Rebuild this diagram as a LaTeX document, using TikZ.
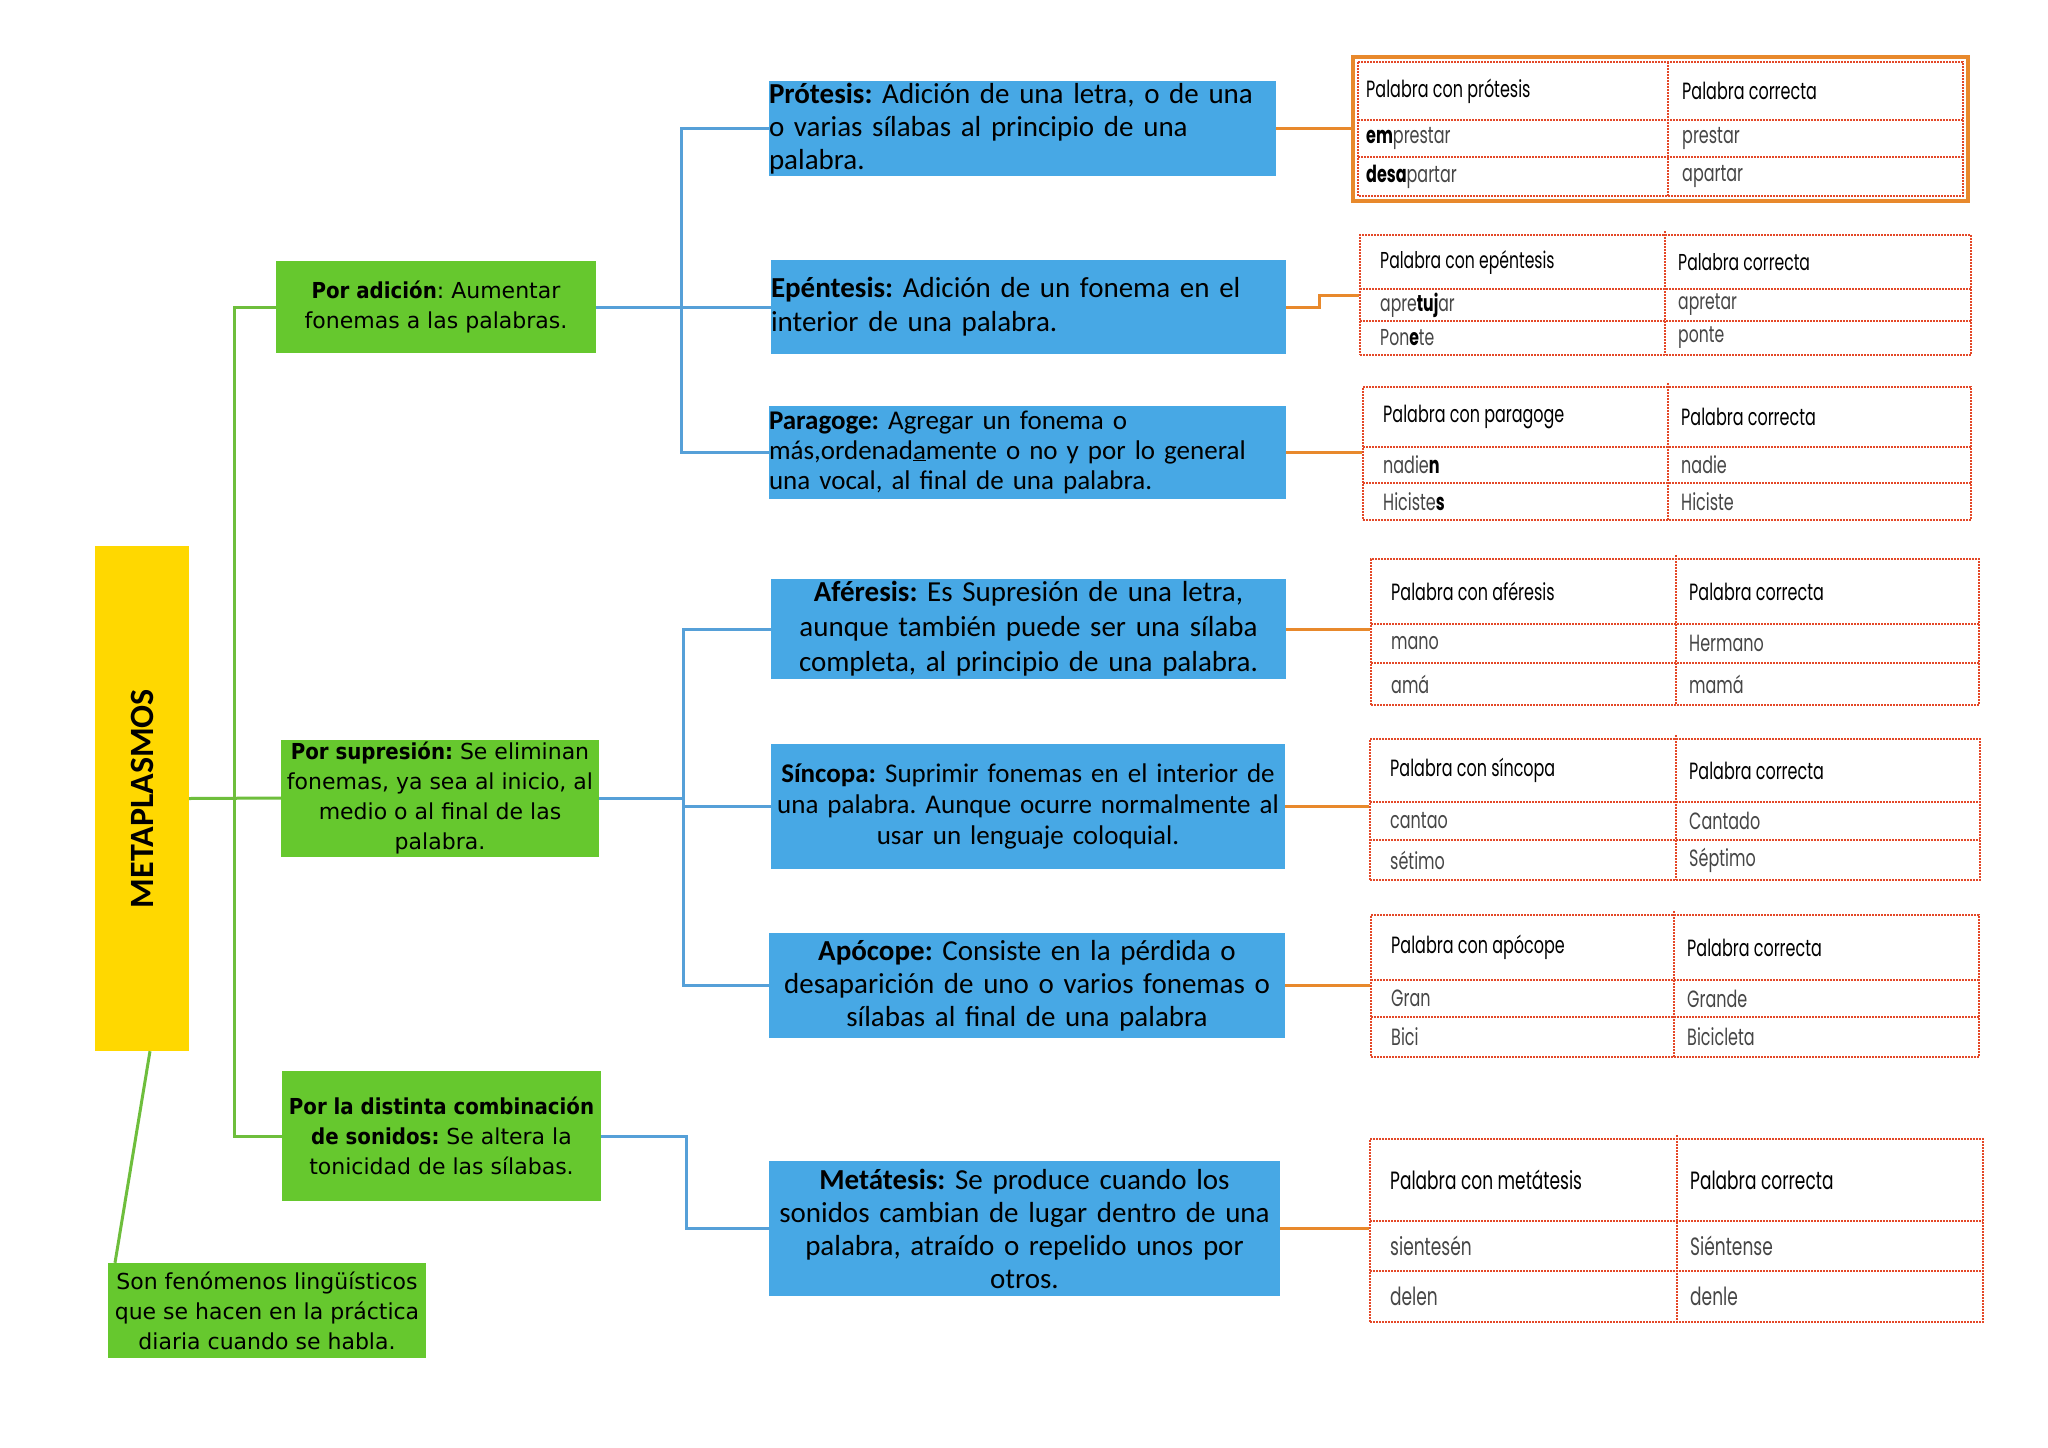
\documentclass[tikz,border=0pt]{standalone}
\usepackage{fontspec}
\setmainfont{Carlito}
\newfontfamily\verd{DejaVu Sans}[BoldFeatures={FakeStretch=0.9}]
\newfontfamily\tabfont{Poppins}[FakeStretch=0.68]
\newcommand\fsz[2]{\fontsize{#1}{#2}\selectfont}
\frenchspacing
\definecolor{cyellow}{RGB}{255,216,0}
\definecolor{cgreen}{RGB}{102,200,46}
\definecolor{cblue}{RGB}{71,168,229}
\definecolor{cbline}{RGB}{86,160,216}
\definecolor{cgline}{RGB}{110,190,60}
\definecolor{coline}{RGB}{232,137,44}
\definecolor{cred}{RGB}{228,72,40}
\definecolor{cgray}{RGB}{70,70,70}
\newcommand\tablegrid[8]{%
  \pgfmathsetmacro\tw{#4-#2}\pgfmathsetmacro\th{#5-#3}%
  \pgfmathsetmacro\tcx{(#2+#4)/2}\pgfmathsetmacro\tcy{(#3+#5)/2}%
  \node[tabframe, minimum width=\tw pt, minimum height=\th pt] (#1) at (\tcx,\tcy) {};
  \draw[tabdot] (#2,#7) -- (#4,#7);
  \draw[tabdot] (#2,#8) -- (#4,#8);
  \draw[tabdot] (#6,#3-4) -- (#6,#5);
}
\begin{document}
\begin{tikzpicture}[x=1pt,y=-1pt,
  bluebox/.style={fill=cblue, inner xsep=0pt, inner ysep=0pt, text=black},
  greenbox/.style={fill=cgreen, inner xsep=0pt, inner ysep=0pt, align=center, text=black, font=\verd\fsz{22}{30}},
  bline/.style={draw=cbline, line width=3pt},
  gline/.style={draw=cgline, line width=3pt},
  oline/.style={draw=coline, line width=3pt},
  tabdot/.style={draw=cred, line width=2pt, dash pattern=on 1.6pt off 1.4pt},
  tabframe/.style={tabdot, inner sep=0pt},
  thead/.style={anchor=west, inner sep=0pt, text=black},
  tcell/.style={anchor=west, inner sep=0pt, text=cgray},
  ]
\useasboundingbox[fill=white] (0,0) rectangle (2048,1448);

% central yellow box
\node[fill=cyellow, minimum width=94pt, minimum height=505pt, inner sep=0pt] (meta) at (142,798.5) {};
\node[rotate=90, font=\bfseries\fsz{34}{40}] (metalabel) at (meta.center) {METAPLASMOS};

% green boxes
\node[greenbox, minimum width=320pt, minimum height=92pt] (adicion) at (436,307)
  {\textbf{Por adición}: Aumentar\\fonemas a las palabras.};
\node[greenbox, minimum width=318pt, minimum height=117pt] (supresion) at (440,798)
  {\textbf{Por supresión:} Se eliminan\\fonemas, ya sea al inicio, al\\medio o al final de las\\palabra.};
\node[greenbox, minimum width=319pt, minimum height=130pt] (distinta) at (441.5,1136)
  {\textbf{Por la distinta combinación}\\\textbf{de sonidos:} Se altera la\\tonicidad de las sílabas.};
\node[greenbox, minimum width=318pt, minimum height=95pt] (son) at (267,1310.5)
  {Son fenómenos lingüísticos\\que se hacen en la práctica\\diaria cuando se habla.};

% blue boxes
\node[bluebox, text width=507pt, minimum height=95pt, align=left, font=\fsz{29}{33}] (protesis) at (1022.5,128.5)
  {\textbf{Prótesis:} Adición de una letra, o de una\\o varias sílabas al principio de una\\palabra.};
\node[bluebox, text width=515pt, minimum height=94pt, align=left, font=\fsz{29}{34}] (epentesis) at (1028.5,307)
  {\textbf{Epéntesis:} Adición de un fonema en el\\interior de una palabra.};
\node[bluebox, text width=517pt, minimum height=93pt, align=left, font=\fsz{27}{30}] (paragoge) at (1027.5,452)
  {\textbf{Paragoge:} Agregar un fonema o\\más,ordenad\underline{a}mente o no y por lo general\\una vocal, al final de una palabra.};
\node[bluebox, text width=515pt, minimum height=100pt, align=center, font=\fsz{29}{35}] (aferesis) at (1028.5,629)
  {\textbf{Aféresis:} Es Supresión de una letra,\\aunque también puede ser una sílaba\\completa, al principio de una palabra.};
\node[bluebox, text width=514pt, minimum height=125pt, align=center, font=\fsz{27}{31}] (sincopa) at (1028,806.5)
  {\textbf{Síncopa:} Suprimir fonemas en el interior de\\una palabra. Aunque ocurre normalmente al\\usar un lenguaje coloquial.};
\node[bluebox, text width=516pt, minimum height=105pt, align=center, font=\fsz{29}{33}] (apocope) at (1027,985.5)
  {\textbf{Apócope:} Consiste en la pérdida o\\desaparición de uno o varios fonemas o\\sílabas al final de una palabra};
\node[bluebox, text width=511pt, minimum height=135pt, align=center, font=\fsz{29}{33}] (metatesis) at (1024.5,1228.5)
  {\textbf{Metátesis:} Se produce cuando los\\sonidos cambian de lugar dentro de una\\palabra, atraído o repelido unos por\\otros.};

% tables
\node[draw=coline, line width=3.5pt, minimum width=615pt, minimum height=144pt, inner sep=0pt] (t1) at (1660.5,129) {};
\draw[tabdot] (1358,62) rectangle (1963,196);
\draw[tabdot] (1358,120) -- (1963,120);
\draw[tabdot] (1358,157) -- (1963,157);
\draw[tabdot] (1668,62) -- (1668,196);
\tablegrid{t2}{1360}{235}{1971}{355}{1665}{289}{321}
\tablegrid{t3}{1363}{387}{1971}{520}{1668}{447}{483}
\tablegrid{t4}{1371}{559}{1979}{705}{1676}{624}{663}
\tablegrid{t5}{1370}{739}{1980}{880}{1676}{802}{840}
\tablegrid{t6}{1371}{915}{1979}{1057}{1674}{980}{1017}
\tablegrid{t7}{1370}{1139}{1983}{1322}{1677}{1221}{1271}

\begin{scope}[font=\tabfont\fsz{23.5}{26}]
\node[thead] (t1a) at (1366,91) {Palabra con prótesis};
\node[thead] (t1b) at (1682,91) {Palabra correcta};
\node[tcell] (t1c) at (1366,138.5) {\textcolor{black}{\textbf{em}}prestar};
\node[tcell] (t1d) at (1682,138.5) {prestar};
\node[tcell] (t1e) at (1366,176.5) {\textcolor{black}{\textbf{desa}}partar};
\node[tcell] (t1f) at (1682,176.5) {apartar};
\end{scope}
\begin{scope}[font=\tabfont\fsz{23}{26}]
\node[thead] (t2a) at (1380,262) {Palabra con epéntesis};
\node[thead] (t2b) at (1678,262) {Palabra correcta};
\node[tcell] (t2c) at (1380,305) {apre\textcolor{black}{\textbf{tuj}}ar};
\node[tcell] (t2d) at (1678,305) {apretar};
\node[tcell] (t2e) at (1380,338) {Pon\textcolor{black}{\textbf{e}}te};
\node[tcell] (t2f) at (1678,338) {ponte};
\end{scope}
\begin{scope}[font=\tabfont\fsz{23.5}{26}]
\node[thead] (t3a) at (1383,417) {Palabra con paragoge};
\node[thead] (t3b) at (1681,417) {Palabra correcta};
\node[tcell] (t3c) at (1383,465) {nadie\textcolor{black}{\textbf{n}}};
\node[tcell] (t3d) at (1681,465) {nadie};
\node[tcell] (t3e) at (1383,501.5) {Hiciste\textcolor{black}{\textbf{s}}};
\node[tcell] (t3f) at (1681,501.5) {Hiciste};
\end{scope}
\begin{scope}[font=\tabfont\fsz{23.5}{26}]
\node[thead] (t4a) at (1391,591.5) {Palabra con aféresis};
\node[thead] (t4b) at (1689,591.5) {Palabra correcta};
\node[tcell] (t4c) at (1391,643.5) {mano};
\node[tcell] (t4d) at (1689,643.5) {Hermano};
\node[tcell] (t4e) at (1391,684) {amá};
\node[tcell] (t4f) at (1689,684) {mamá};
\node[thead] (t5a) at (1390,770.5) {Palabra con síncopa};
\node[thead] (t5b) at (1689,770.5) {Palabra correcta};
\node[tcell] (t5c) at (1390,821) {cantao};
\node[tcell] (t5d) at (1689,821) {Cantado};
\node[tcell] (t5e) at (1390,860) {sétimo};
\node[tcell] (t5f) at (1689,860) {Séptimo};
\node[thead] (t6a) at (1391,947.5) {Palabra con apócope};
\node[thead] (t6b) at (1687,947.5) {Palabra correcta};
\node[tcell] (t6c) at (1391,998.5) {Gran};
\node[tcell] (t6d) at (1687,998.5) {Grande};
\node[tcell] (t6e) at (1391,1037) {Bici};
\node[tcell] (t6f) at (1687,1037) {Bicicleta};
\end{scope}
\begin{scope}[font=\tabfont\fsz{25}{28}]
\node[thead] (t7a) at (1390,1180) {Palabra con metátesis};
\node[thead] (t7b) at (1690,1180) {Palabra correcta};
\node[tcell] (t7c) at (1390,1246) {sientesén};
\node[tcell] (t7d) at (1690,1246) {Siéntense};
\node[tcell] (t7e) at (1390,1296.5) {delen};
\node[tcell] (t7f) at (1690,1296.5) {denle};
\end{scope}

% green connectors
\draw[gline] (meta.east) -- (supresion.west);
\draw[gline] (adicion.west) -- ++(-41,0) |- (distinta.west);
\draw[gline] ([xshift=8pt]meta.south) -- ([xshift=-152pt]son.north);

% blue connectors
\draw[bline] (adicion.east) -- (epentesis.west);
\draw[bline] (protesis.west) -- ++(-87,0) |- (paragoge.west);
\draw[bline] (aferesis.west) -- ++(-87,0) |- (apocope.west);
\draw[bline] (sincopa.west) -- ++(-87,0) coordinate (j2);
\draw[bline] (supresion.east) -- (supresion.east -| j2);
\draw[bline] (distinta.east) -- ++(85,0) |- (metatesis.west);

% orange connectors
\draw[oline] (protesis.east) -- (protesis.east -| t1.west);
\draw[oline] (epentesis.east) -- ++(33,0) |- (t2.west);
\draw[oline] (paragoge.east) -- (paragoge.east -| t3.west);
\draw[oline] (aferesis.east) -- (aferesis.east -| t4.west);
\draw[oline] (sincopa.east) -- (sincopa.east -| t5.west);
\draw[oline] (apocope.east) -- (apocope.east -| t6.west);
\draw[oline] (metatesis.east) -- (metatesis.east -| t7.west);
\end{tikzpicture}
\end{document}
